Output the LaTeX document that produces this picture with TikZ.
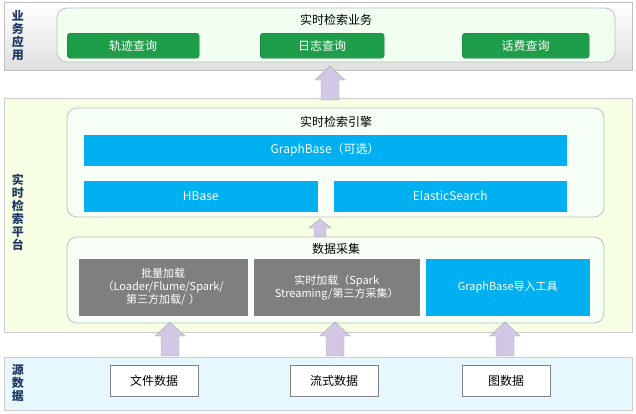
\documentclass[tikz,border=0pt]{standalone}
\usepackage{fontspec}
\setmainfont{Noto Sans CJK SC}
\definecolor{bluebar}{HTML}{00B0F0}
\definecolor{gbtn}{HTML}{1E9E4A}
\definecolor{grbox}{HTML}{7F7F7F}
\definecolor{lav}{HTML}{D2C8E6}
\definecolor{lbl}{HTML}{1F3864}
\begin{document}
\begin{tikzpicture}[x=1pt,y=-1pt,
  lab/.style={font=\bfseries\fontsize{12}{13}\selectfont,text=lbl,align=center,text width=12pt},
  panel/.style={draw=gray!50,rounded corners=10pt,thick},
  ttl/.style={font=\fontsize{12}{13}\selectfont},
  btn/.style={draw=gbtn!70!black,fill=gbtn,rounded corners=3pt,text=white,font=\fontsize{12}{13}\selectfont,anchor=north west,inner sep=0pt},
  bar/.style={fill=bluebar,draw=white,text=white,font=\fontsize{12}{13}\selectfont,anchor=north west,inner sep=0pt},
  gbox/.style={fill=grbox,draw=white,text=white,font=\fontsize{11}{13}\selectfont,anchor=north west,inner sep=0pt,align=center},
  src/.style={draw=gray,fill=white,font=\fontsize{12}{13}\selectfont,anchor=north west,inner sep=0pt},
  uparr/.pic={\draw[gray!70,fill=lav] (-9,0) -- (-9,-20) -- (-15,-20) -- (0,-34) -- (15,-20) -- (9,-20) -- (9,0) -- cycle;},
  smarr/.pic={\draw[gray!70,fill=lav] (-6,0) -- (-6,-9) -- (-11,-9) -- (0,-18) -- (11,-9) -- (6,-9) -- (6,0) -- cycle;}]
\useasboundingbox (0,0) rectangle (636,413);
\fill[top color=white,bottom color=gray!25,draw=gray!50] (4,2) rectangle (632,70);
\fill[fill=green!8!lime!10,draw=gray!40] (4,98) rectangle (632,332);
\fill[fill=cyan!10,draw=gray!40] (4,357) rectangle (632,410);
\node[lab] (l1) at (18,36) {业\\务\\应\\用};
\node[lab] (l2) at (18,212) {实\\时\\检\\索\\平\\台};
\node[lab] (l3) at (18,383) {源\\数\\据};
\draw[panel,fill=green!6] (57,8) rectangle (615,62);
\node[ttl] (t1) at (336,20) {实时检索业务};
\node[btn,minimum width=132pt,minimum height=25pt] (b1) at (67,33) {轨迹查询};
\node[btn,minimum width=124pt,minimum height=25pt] (b2) at (260,33) {日志查询};
\node[btn,minimum width=127pt,minimum height=25pt] (b3) at (462,33) {话费查询};
\pic at (330,100) {uparr};
\draw[panel,fill=green!4] (67,108) rectangle (604,217);
\node[ttl] (t2) at (336,122) {实时检索引擎};
\node[bar,minimum width=484pt,minimum height=32pt] (gb) at (83,134) {GraphBase（可选）};
\node[bar,minimum width=235pt,minimum height=32pt] (hb) at (83,180) {HBase};
\node[bar,minimum width=234pt,minimum height=32pt] (es) at (333,180) {ElasticSearch};
\pic at (320,237) {smarr};
\draw[panel,fill=green!4] (67,237) rectangle (604,323);
\node[ttl] (t3) at (336,249) {数据采集};
\node[gbox,minimum width=170pt,minimum height=58pt,text width=165pt] (g1) at (78,258) {批量加载\\（Loader/Flume/Spark/\\第三方加载/ ）};
\node[gbox,minimum width=167pt,minimum height=58pt,text width=162pt] (g2) at (253,258) {实时加载（Spark\\Streaming/第三方采集）};
\node[bar,minimum width=165pt,minimum height=58pt,font=\fontsize{11}{13}\selectfont] (g3) at (425,258) {GraphBase导入工具};
\pic at (170,356) {uparr};
\pic at (335,356) {uparr};
\pic at (505,356) {uparr};
\node[src,minimum width=88pt,minimum height=31pt] (s1) at (110,365) {文件数据};
\node[src,minimum width=88pt,minimum height=31pt] (s2) at (290,365) {流式数据};
\node[src,minimum width=88pt,minimum height=31pt] (s3) at (462,365) {图数据};
\end{tikzpicture}
\end{document}
